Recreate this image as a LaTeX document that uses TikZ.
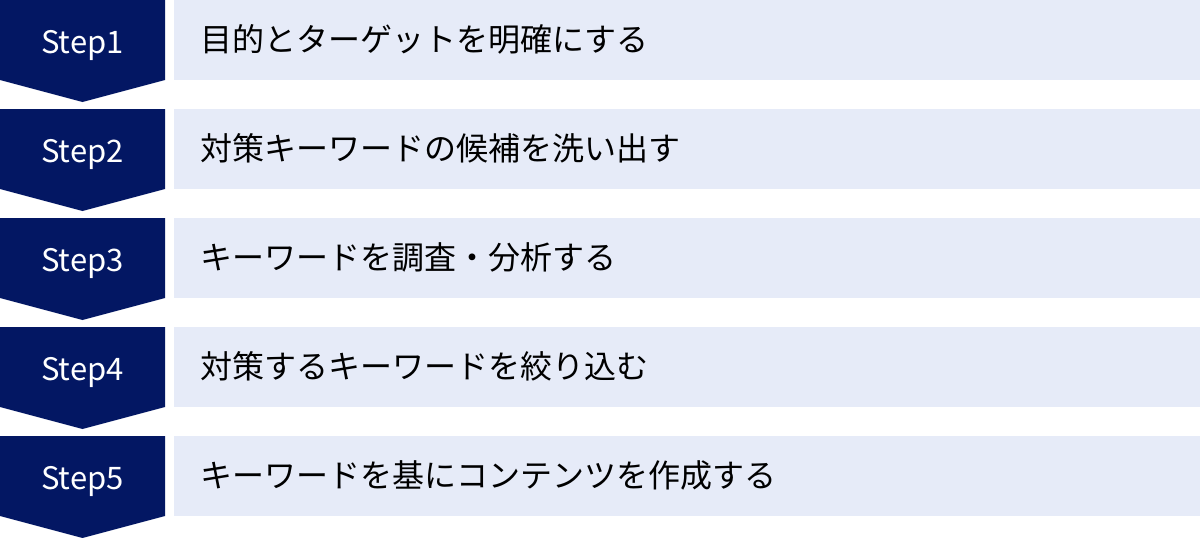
\documentclass[tikz,border=0pt]{standalone}
\usepackage{fontspec}
\setmainfont{Noto Sans}
\newfontfamily\jpfont{Noto Sans CJK JP}
\definecolor{stepnavy}{HTML}{031763}
\definecolor{rowblue}{HTML}{E6EBF8}
\tikzset{
	steplabel/.style={anchor=base, text=white, font=\jpfont\fontsize{31}{36}\selectfont, inner sep=0},
	rowtext/.style={anchor=base west, font=\jpfont\fontsize{32}{36}\selectfont, inner sep=0}
}

\begin{document}
\begin{tikzpicture}[x=1pt, y=-1pt]
			%%%%% START %%%%%
			\useasboundingbox (0, 0) rectangle (1200, 538);
			
			\fill[stepnavy] (0, 0) -- (165, 0) -- (165, 80) -- (82.5, 102) -- (0, 80) -- cycle;
			\fill[rowblue] (174, 0) rectangle (1200, 80);
			\node[steplabel] (s1) at (82.5, 53) {Step1};
			\node[rowtext] (t1) at (200, 51.5) {目的とターゲットを明確にする};
			
			\fill[stepnavy] (0, 109) -- (165, 109) -- (165, 189) -- (82.5, 211) -- (0, 189) -- cycle;
			\fill[rowblue] (174, 109) rectangle (1200, 189);
			\node[steplabel] (s2) at (82.5, 162) {Step2};
			\node[rowtext] (t2) at (200, 160.5) {対策キーワードの候補を洗い出す};
			
			\fill[stepnavy] (0, 218) -- (165, 218) -- (165, 298) -- (82.5, 320) -- (0, 298) -- cycle;
			\fill[rowblue] (174, 218) rectangle (1200, 298);
			\node[steplabel] (s3) at (82.5, 271) {Step3};
			\node[rowtext] (t3) at (200, 269.5) {キーワードを調査・分析する};
			
			\fill[stepnavy] (0, 327) -- (165, 327) -- (165, 407) -- (82.5, 429) -- (0, 407) -- cycle;
			\fill[rowblue] (174, 327) rectangle (1200, 407);
			\node[steplabel] (s4) at (82.5, 380) {Step4};
			\node[rowtext] (t4) at (200, 378.5) {対策するキーワードを絞り込む};
			
			\fill[stepnavy] (0, 436) -- (165, 436) -- (165, 516) -- (82.5, 538) -- (0, 516) -- cycle;
			\fill[rowblue] (174, 436) rectangle (1200, 516);
			\node[steplabel] (s5) at (82.5, 489) {Step5};
			\node[rowtext] (t5) at (200, 487.5) {キーワードを基にコンテンツを作成する};
			%%%%% END %%%%%
\end{tikzpicture}
\end{document}
